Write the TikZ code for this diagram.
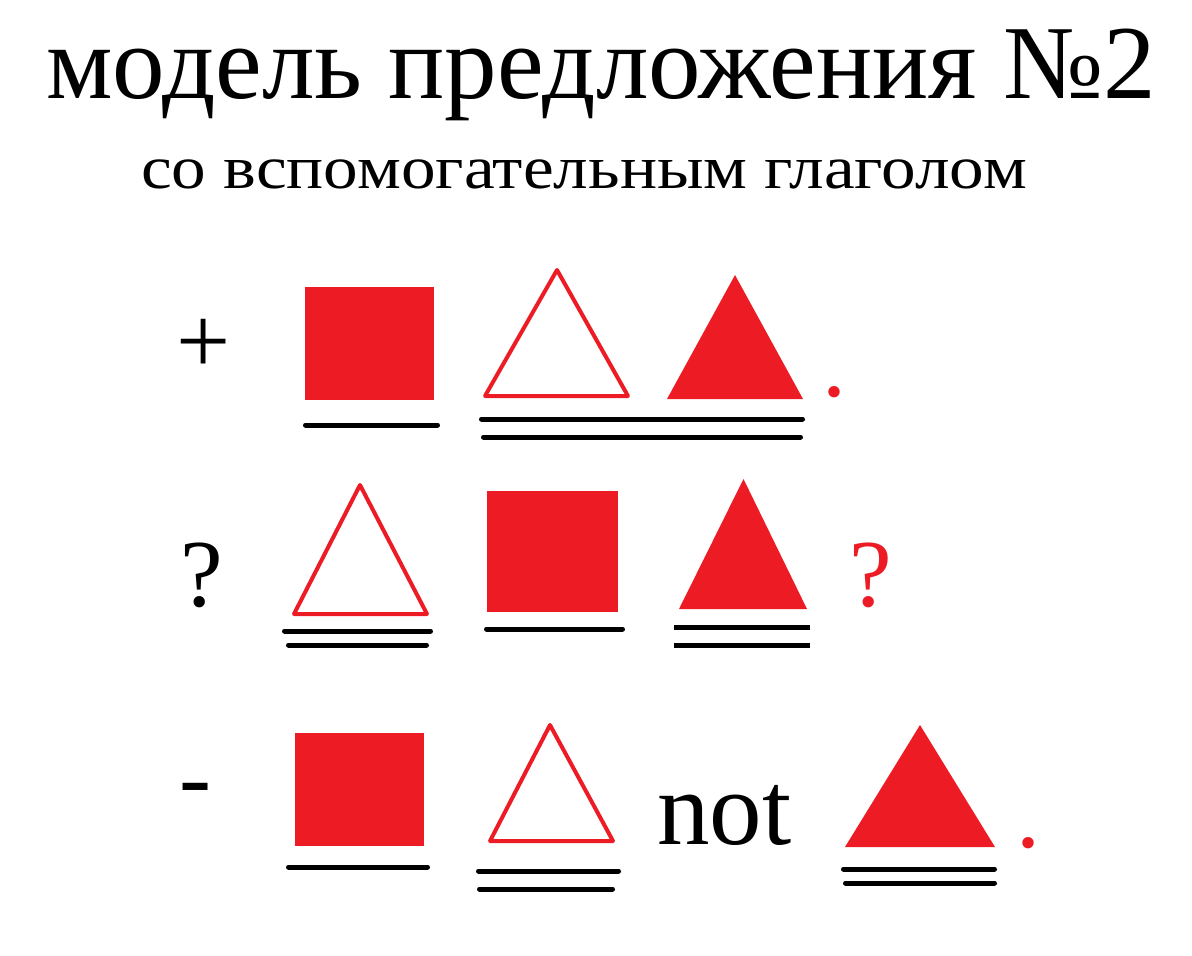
\documentclass[tikz,border=0pt]{standalone}
\usepackage{fontspec}
\setmainfont{Liberation Serif}
\definecolor{paintred}{HTML}{ED1C24}

\begin{document}
\begin{tikzpicture}[x=1pt, y=-1pt,
  heading/.style={inner sep=0pt, anchor=base, font=\fontsize{105}{110}\selectfont},
  subheading/.style={inner sep=0pt, anchor=base, font=\fontsize{61}{66}\selectfont},
  sign/.style={inner sep=0pt, anchor=base, font=\fontsize{96}{100}\selectfont},
  block/.style={fill=paintred},
  hollowtri/.style={draw=paintred, line width=4pt, line join=round},
  filledtri/.style={fill=paintred},
  under/.style={line width=5pt, line cap=round},
  underbutt/.style={line width=5pt}
]
\useasboundingbox (0,0) rectangle (1192,956);

% titles
\node[heading] (title) at (601,98) {модель предложения №2};
\node[subheading] (subtitle) at (584,188) {\scalebox{1.135}[1]{со вспомогательным глаголом}};

% row 1: statement
\node[sign] (plus) at (204,373) {+};
\fill[block] (305,287) rectangle (434,400);
\draw[hollowtri] (485,396) -- (557,270) -- (628,396) -- cycle;
\fill[filledtri] (667,399) -- (735,275) -- (803,399) -- cycle;
\node[sign, text=paintred] (dot1) at (834,396) {.};
\draw[under] (305.5,425) -- (437.5,425);
\draw[under] (481.5,419) -- (802.5,419);
\draw[under] (483.5,437) -- (800.5,437);

% row 2: question
\node[sign] (quest) at (202,606) {?};
\draw[hollowtri] (294,614) -- (360,485) -- (427,614) -- cycle;
\fill[block] (487,491) rectangle (618,612);
\fill[filledtri] (679,609) -- (743.5,479) -- (807,609) -- cycle;
\node[sign, text=paintred] (quest2) at (871,606) {?};
\draw[under] (284.5,631) -- (430.5,631);
\draw[under] (288.5,645) -- (426.5,645);
\draw[under] (486.5,629) -- (622.5,629);
\draw[underbutt] (674,627) -- (810,627);
\draw[underbutt] (674,645) -- (810,645);

% row 3: negation
\node[sign] (minus) at (195,809) {-};
\fill[block] (295,733) rectangle (424,846);
\draw[hollowtri] (490,841) -- (550,725) -- (613,841) -- cycle;
\node[heading] (neg) at (724.5,844) {not};
\fill[filledtri] (845,847) -- (920,725) -- (995,847) -- cycle;
\node[sign, text=paintred] (dot3) at (1028,847) {.};
\draw[under] (288.5,867) -- (427.5,867);
\draw[under] (478.5,871) -- (618.5,871);
\draw[under] (479.5,889) -- (612.5,889);
\draw[under] (843.5,869) -- (994.5,869);
\draw[under] (845.5,883) -- (994.5,883);
\end{tikzpicture}
\end{document}
